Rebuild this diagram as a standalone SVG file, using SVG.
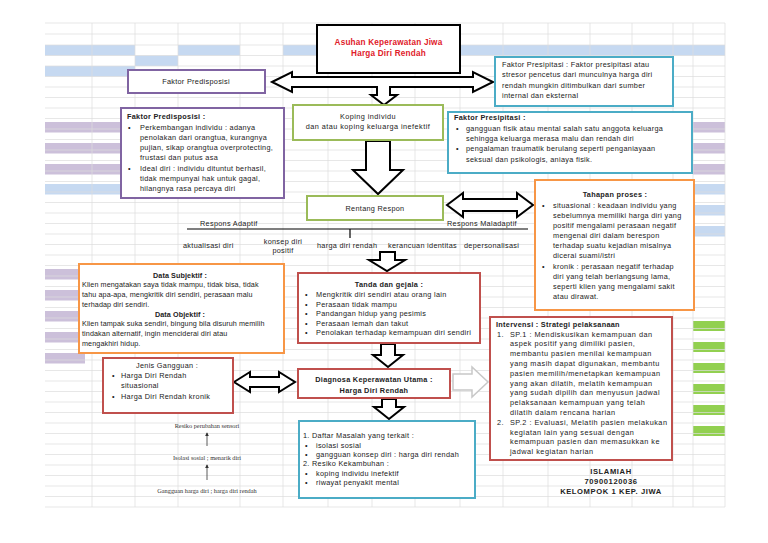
<svg xmlns="http://www.w3.org/2000/svg" width="768" height="543" viewBox="0 0 768 543">
<style>
.t{font-family:"Liberation Sans",Arial,sans-serif;font-size:7.3px;letter-spacing:0.3px;fill:#222}
.b{font-weight:bold}
.c{text-anchor:middle}
.ds .t{font-size:7.2px;letter-spacing:0.1px}
.iv .t{letter-spacing:0.5px}
.kp .t{letter-spacing:0.45px}
.s{font-family:"Liberation Serif","Times New Roman",serif;font-size:6.3px;fill:#333;text-anchor:middle}
.box{fill:#fff;stroke-width:2}
.pu{stroke:#8064a2}.gr{stroke:#9bbb59}.te{stroke:#4bacc6}.or{stroke:#f79646}.re{stroke:#c0504d}
.arr{fill:#fff;stroke:#000;stroke-width:2;stroke-linejoin:miter}
.grid line{stroke:#dcdcdc;stroke-width:0.7}
</style>
<defs>
<marker id="ah" viewBox="0 0 6 6" refX="5" refY="3" markerWidth="5" markerHeight="5" orient="auto"><path d="M0,0 L6,3 L0,6 z" fill="#333"/></marker>
</defs>
<rect width="768" height="543" fill="#fff"/>
<g id="background">
<g fill="#c6d9f1">
<rect x="45" y="45" width="90" height="10.5"/><rect x="178" y="45" width="62" height="10.5"/><rect x="283" y="45" width="442" height="10.5"/>
<rect x="135" y="55.5" width="43" height="10.5"/><rect x="45" y="66" width="90" height="10.5"/>
<rect x="45" y="184" width="75" height="10.5"/><rect x="693" y="184" width="32" height="10.5"/>
<rect x="693" y="205" width="32" height="10.5"/><rect x="693" y="226" width="32" height="10.5"/>
</g>
<g fill="#ccc0da">
<rect x="45" y="122" width="75" height="10.5"/><rect x="45" y="143" width="75" height="10.5"/><rect x="45" y="164" width="75" height="10.5"/>
<rect x="693" y="122" width="32" height="10.5"/><rect x="693" y="143" width="32" height="10.5"/><rect x="693" y="164" width="32" height="10.5"/>
<rect x="45" y="269" width="40" height="10.5"/><rect x="45" y="290" width="40" height="10.5"/><rect x="45" y="311" width="40" height="10.5"/><rect x="45" y="332" width="40" height="10.5"/><rect x="45" y="353" width="40" height="10.5"/>
</g>
<g fill="#92d050">
<rect x="693" y="321" width="32" height="10"/><rect x="693" y="342" width="32" height="10"/><rect x="693" y="363" width="32" height="10"/><rect x="693" y="384" width="32" height="10"/><rect x="693" y="405" width="32" height="10"/><rect x="693" y="426" width="32" height="10"/>
</g>
<g class="grid">
<line x1="45" y1="23" x2="725" y2="23"/><line x1="45" y1="34" x2="725" y2="34"/><line x1="45" y1="45" x2="725" y2="45"/><line x1="45" y1="55.5" x2="725" y2="55.5"/><line x1="45" y1="66" x2="725" y2="66"/><line x1="45" y1="76.5" x2="725" y2="76.5"/><line x1="45" y1="87" x2="725" y2="87"/><line x1="45" y1="97.5" x2="725" y2="97.5"/><line x1="45" y1="108" x2="725" y2="108"/><line x1="45" y1="118.5" x2="725" y2="118.5"/><line x1="45" y1="129" x2="725" y2="129"/><line x1="45" y1="139.5" x2="725" y2="139.5"/><line x1="45" y1="150" x2="725" y2="150"/><line x1="45" y1="160.5" x2="725" y2="160.5"/><line x1="45" y1="171" x2="725" y2="171"/><line x1="45" y1="181.5" x2="725" y2="181.5"/><line x1="45" y1="192" x2="725" y2="192"/><line x1="45" y1="202.5" x2="725" y2="202.5"/><line x1="45" y1="213" x2="725" y2="213"/><line x1="45" y1="223.5" x2="725" y2="223.5"/><line x1="45" y1="234" x2="725" y2="234"/><line x1="45" y1="244.5" x2="725" y2="244.5"/><line x1="45" y1="255" x2="725" y2="255"/><line x1="45" y1="265.5" x2="725" y2="265.5"/><line x1="45" y1="276" x2="725" y2="276"/><line x1="45" y1="286.5" x2="725" y2="286.5"/><line x1="45" y1="297" x2="725" y2="297"/><line x1="45" y1="307.5" x2="725" y2="307.5"/><line x1="45" y1="318" x2="725" y2="318"/><line x1="45" y1="328.5" x2="725" y2="328.5"/><line x1="45" y1="339" x2="725" y2="339"/><line x1="45" y1="349.5" x2="725" y2="349.5"/><line x1="45" y1="360" x2="725" y2="360"/><line x1="45" y1="370.5" x2="725" y2="370.5"/><line x1="45" y1="381" x2="725" y2="381"/><line x1="45" y1="391.5" x2="725" y2="391.5"/><line x1="45" y1="402" x2="725" y2="402"/><line x1="45" y1="412.5" x2="725" y2="412.5"/><line x1="45" y1="423" x2="725" y2="423"/><line x1="45" y1="433.5" x2="725" y2="433.5"/><line x1="45" y1="444" x2="725" y2="444"/><line x1="45" y1="454.5" x2="725" y2="454.5"/><line x1="45" y1="465" x2="725" y2="465"/><line x1="45" y1="475.5" x2="725" y2="475.5"/><line x1="45" y1="486" x2="725" y2="486"/><line x1="45" y1="496.5" x2="725" y2="496.5"/><line x1="45" y1="507" x2="725" y2="507"/>
<line x1="92" y1="23" x2="92" y2="507"/><line x1="135" y1="23" x2="135" y2="507"/><line x1="178" y1="23" x2="178" y2="507"/><line x1="240" y1="23" x2="240" y2="507"/><line x1="283" y1="23" x2="283" y2="507"/><line x1="328" y1="23" x2="328" y2="507"/><line x1="372" y1="23" x2="372" y2="507"/><line x1="415" y1="23" x2="415" y2="507"/><line x1="460" y1="23" x2="460" y2="507"/><line x1="503" y1="23" x2="503" y2="507"/><line x1="548" y1="23" x2="548" y2="507"/><line x1="590" y1="23" x2="590" y2="507"/><line x1="632" y1="23" x2="632" y2="507"/><line x1="673" y1="23" x2="673" y2="507"/><line x1="693" y1="23" x2="693" y2="507"/><line x1="725" y1="23" x2="725" y2="507"/>
</g>
</g>

<g id="connectors">
<polygon class="arr" points="272,82 292,72 292,77 473,77 473,72 493,82 473,92 473,87 390,87 390,95 397,95 384,105 371,95 377,95 377,87 292,87 292,92"/>
<polygon class="arr" points="366,141 390,141 390,170 403,170 378,194 353,170 366,170"/>
<polygon class="arr" points="447,205 463,193 463,199 517,199 517,193 533,205 517,217 517,211 463,211 463,217"/>
<line x1="187" y1="229" x2="528" y2="229" stroke="#000" stroke-width="1.2"/>
<line x1="350" y1="229" x2="350" y2="238" stroke="#000" stroke-width="1.2"/>
<polygon class="arr" points="380,252 395,252 395,260 405,260 387,271 369,260 380,260"/>
<polygon class="arr" points="381,344 395,344 395,355 403,355 388,367 373,355 381,355"/>
<polygon class="arr" points="382,399 396,399 396,407 404,407 389,419 374,407 382,407"/>
<polygon class="arr" points="234,382 250,372 250,377 279,377 279,372 295,382 279,392 279,387 250,387 250,392"/>
<polygon points="453,374 472,374 472,367 488,382 472,397 472,390 453,390" fill="#fff" stroke="#c8c8c8" stroke-width="1.5"/>
<line x1="207" y1="446" x2="207" y2="433" stroke="#333" stroke-width="0.8" marker-end="url(#ah)"/>
<line x1="207" y1="480" x2="207" y2="465" stroke="#333" stroke-width="0.8" marker-end="url(#ah)"/>
</g>

<g id="title">
<rect x="317" y="25" width="143" height="48" fill="#fff" stroke="#000" stroke-width="2"/>
<text class="t b c" x="388.5" y="45" style="font-size:8.2px;letter-spacing:0.2px;fill:#e0202a">Asuhan Keperawatan Jiwa</text>
<text class="t b c" x="388.5" y="56" style="font-size:8.2px;letter-spacing:0.2px;fill:#e0202a">Harga Diri Rendah</text>
</g>

<g id="faktor-predisposisi-label">
<rect class="box pu" x="128" y="70" width="137" height="23"/>
<text class="t c" x="196" y="84">Faktor Predisposisi</text>
</g>

<g id="faktor-presipitasi-def">
<rect class="box te" x="495" y="57" width="178" height="49"/>
<text class="t" x="502" y="67">Faktor Presipitasi : Faktor presipitasi atau</text>
<text class="t" x="502" y="77">stresor pencetus dari munculnya harga diri</text>
<text class="t" x="502" y="87.5">rendah mungkin ditimbulkan dari sumber</text>
<text class="t" x="502" y="98">internal dan eksternal</text>
</g>

<g id="faktor-predisposisi">
<rect class="box pu" x="121" y="108" width="163" height="90"/>
<text class="t b" x="127" y="119">Faktor Predisposisi :</text>
<text class="t" x="128" y="130">•</text>
<text class="t" x="140" y="130">Perkembangan individu : adanya</text>
<text class="t" x="140" y="140">penolakan dari orangtua, kurangnya</text>
<text class="t" x="140" y="150">pujian, sikap orangtua overprotecting,</text>
<text class="t" x="140" y="160">frustasi dan putus asa</text>
<text class="t" x="128" y="171">•</text>
<text class="t" x="140" y="171">Ideal diri : individu dituntut berhasil,</text>
<text class="t" x="140" y="181">tidak mempunyai hak untuk gagal,</text>
<text class="t" x="140" y="191">hilangnya rasa percaya diri</text>
</g>

<g id="koping" class="kp">
<rect class="box gr" x="293" y="105" width="150" height="35"/>
<text class="t c" x="368" y="119">Koping individu</text>
<text class="t c" x="368" y="129">dan atau koping keluarga inefektif</text>
</g>

<g id="faktor-presipitasi">
<rect class="box te" x="448" y="112" width="244" height="61"/>
<text class="t b" x="454" y="120">Faktor Presipitasi :</text>
<text class="t" x="456" y="131">•</text>
<text class="t" x="466" y="131">gangguan fisik atau mental salah satu anggota keluarga</text>
<text class="t" x="466" y="141">sehingga keluarga merasa  malu dan rendah diri</text>
<text class="t" x="456" y="151">•</text>
<text class="t" x="466" y="151">pengalaman traumatik berulang seperti penganiayaan</text>
<text class="t" x="466" y="162">seksual dan psikologis, aniaya fisik.</text>
</g>

<g id="rentang-respon">
<rect class="box gr" x="307" y="196" width="136" height="24"/>
<text class="t c" x="375" y="211">Rentang Respon</text>
</g>

<g id="respon-labels">
<text class="t" x="200" y="226">Respons Adaptif</text>
<text class="t" x="447" y="226">Respons Maladaptif</text>
<text class="t" x="183" y="248">aktualisasi diri</text>
<text class="t c" x="283" y="244">konsep diri</text>
<text class="t c" x="283" y="253">positif</text>
<text class="t" x="317" y="248">harga diri rendah</text>
<text class="t" x="388" y="248">kerancuan identitas</text>
<text class="t" x="464" y="248">depersonalisasi</text>
</g>

<g id="tahapan-proses">
<rect class="box or" x="535" y="180" width="159" height="130"/>
<text class="t b c" x="615" y="197">Tahapan proses :</text>
<text class="t" x="542" y="208">•</text>
<text class="t" x="553" y="208">situasional : keadaan individu yang</text>
<text class="t" x="553" y="218">sebelumnya memiliki harga diri yang</text>
<text class="t" x="553" y="228">positif mengalami perasaan negatif</text>
<text class="t" x="553" y="238">mengenai diri dalam berespon</text>
<text class="t" x="553" y="248">terhadap suatu kejadian misalnya</text>
<text class="t" x="553" y="258">dicerai suami/istri</text>
<text class="t" x="542" y="269">•</text>
<text class="t" x="553" y="269">kronik : perasaan negatif terhadap</text>
<text class="t" x="553" y="279">diri yang telah berlangsung lama,</text>
<text class="t" x="553" y="289">seperti klien yang mengalami sakit</text>
<text class="t" x="553" y="299">atau dirawat.</text>
</g>

<g id="data" class="ds">
<rect class="box or" x="79" y="264" width="205" height="89"/>
<text class="t b c" x="180" y="278">Data Subjektif :</text>
<text class="t" x="82" y="287">Klien mengatakan saya tidak mampu, tidak bisa, tidak</text>
<text class="t" x="82" y="297">tahu apa-apa, mengkritik diri sendiri, perasaan  malu</text>
<text class="t" x="82" y="307">terhadap diri sendiri.</text>
<text class="t b c" x="180" y="317">Data Objektif :</text>
<text class="t" x="82" y="326">Klien tampak suka sendiri,  bingung  bila disuruh  memilih</text>
<text class="t" x="82" y="336">tindakan alternatif, ingin menciderai diri atau</text>
<text class="t" x="82" y="346">mengakhiri hidup.</text>
</g>

<g id="tanda-gejala">
<rect class="box re" x="298" y="273" width="182" height="70"/>
<text class="t b c" x="389" y="287">Tanda dan gejala :</text>
<text class="t" x="305" y="297">•</text>
<text class="t" x="316" y="297">Mengkritik diri sendiri atau orang lain</text>
<text class="t" x="305" y="306.5">•</text>
<text class="t" x="316" y="306.5">Perasaan tidak mampu</text>
<text class="t" x="305" y="316">•</text>
<text class="t" x="316" y="316">Pandangan hidup yang pesimis</text>
<text class="t" x="305" y="325.5">•</text>
<text class="t" x="316" y="325.5">Perasaan lemah dan takut</text>
<text class="t" x="305" y="335">•</text>
<text class="t" x="316" y="335">Penolakan terhadap kemampuan diri sendiri</text>
</g>

<g id="jenis-gangguan">
<rect class="box re" x="103" y="358" width="130" height="55"/>
<text class="t c" x="167" y="368">Jenis Gangguan :</text>
<text class="t" x="112" y="378">•</text>
<text class="t" x="121" y="378">Harga Diri Rendah</text>
<text class="t" x="121" y="388">situasional</text>
<text class="t" x="112" y="399">•</text>
<text class="t" x="121" y="399">Harga Diri Rendah kronik</text>
</g>

<g id="diagnosa">
<rect class="box re" x="298" y="369" width="152" height="29"/>
<text class="t b c" x="374" y="382">Diagnosa Keperawatan Utama :</text>
<text class="t b c" x="374" y="393">Harga Diri Rendah</text>
</g>

<g id="intervensi" class="iv">
<rect class="box re" x="490" y="317" width="182" height="143"/>
<text class="t b" x="496" y="327" style="letter-spacing:0.3px">Intervensi : Strategi pelaksanaan</text>
<text class="t" x="497" y="336.5">1.</text>
<text class="t" x="510" y="336.5">SP.1 : Mendiskusikan kemampuan dan</text>
<text class="t" x="510" y="346.3">aspek positif yang dimiliki pasien,</text>
<text class="t" x="510" y="356.1">membantu pasien menilai kemampuan</text>
<text class="t" x="510" y="365.9">yang masih dapat digunakan, membantu</text>
<text class="t" x="510" y="375.7">pasien memilih/menetapkan kemampuan</text>
<text class="t" x="510" y="385.5">yang akan dilatih,  melatih kemampuan</text>
<text class="t" x="510" y="395.3">yang sudah dipilih dan menyusun jadwal</text>
<text class="t" x="510" y="405.1">pelaksanaan kemampuan yang telah</text>
<text class="t" x="510" y="414.9">dilatih dalam rencana harian</text>
<text class="t" x="497" y="424.7">2.</text>
<text class="t" x="510" y="424.7">SP.2 : Evaluasi, Melatih pasien melakukan</text>
<text class="t" x="510" y="434.5">kegiatan lain yang sesuai dengan</text>
<text class="t" x="510" y="444.3">kemampuan pasien dan memasukkan ke</text>
<text class="t" x="510" y="454.1">jadwal kegiatan harian</text>
</g>

<g id="daftar-masalah">
<rect class="box te" x="299" y="421" width="176" height="77"/>
<text class="t" x="303" y="438">1. Daftar Masalah yang terkait :</text>
<text class="t" x="305" y="447.5">•</text>
<text class="t" x="316" y="447.5">isolasi sosial</text>
<text class="t" x="305" y="456.5">•</text>
<text class="t" x="316" y="456.5">gangguan konsep diri : harga diri rendah</text>
<text class="t" x="303" y="466">2. Resiko Kekambuhan :</text>
<text class="t" x="305" y="475.5">•</text>
<text class="t" x="316" y="475.5">koping individu inefektif</text>
<text class="t" x="305" y="485">•</text>
<text class="t" x="316" y="485">riwayat penyakit mental</text>
</g>

<g id="author">
<text class="t b c" x="611" y="474" style="font-size:7.6px;letter-spacing:0.6px">ISLAMIAH</text>
<text class="t b c" x="611" y="484" style="font-size:7.6px;letter-spacing:0.6px">70900120036</text>
<text class="t b c" x="611" y="494" style="font-size:7.6px;letter-spacing:0.6px">KELOMPOK 1 KEP. JIWA</text>
</g>

<g id="pohon-masalah">
<text class="s" x="207" y="428">Resiko  perubahan sensori</text>
<text class="s" x="207" y="460">Isolasi sosial ; menarik diri</text>
<text class="s" x="207" y="493">Gangguan harga diri ; harga diri rendah</text>
</g>
</svg>
